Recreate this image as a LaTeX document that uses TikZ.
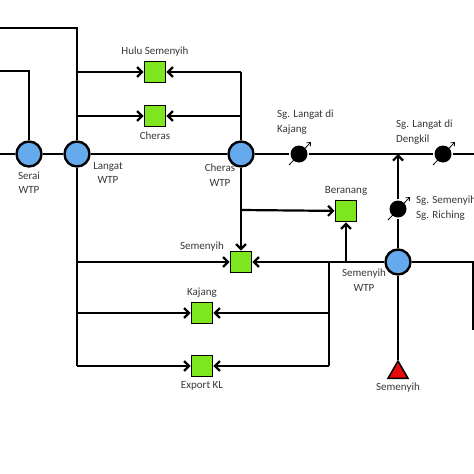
\documentclass[tikz,border=0pt]{standalone}
\usepackage{fontspec}
\setmainfont{Carlito}
\usetikzlibrary{shapes.geometric,arrows.meta,positioning}

\definecolor{wtpblue}{RGB}{102,170,238}
\definecolor{demandgreen}{RGB}{125,230,30}
\definecolor{sourcered}{RGB}{230,10,10}
\definecolor{labelgray}{RGB}{55,55,55}

\begin{document}
\begin{tikzpicture}[
    x=1pt, y=-1pt,
    line width=2.2pt,
    >={Straight Barb[length=5pt,width=10pt]},
    wtp/.style={circle, draw, line width=2.4pt, fill=wtpblue, minimum size=25pt, inner sep=0pt},
    demand/.style={rectangle, draw, line width=1.8pt, fill=demandgreen, minimum size=21pt, inner sep=0pt},
    gauge/.style={circle, fill=black, minimum size=17pt, inner sep=0pt},
    source/.style={regular polygon, regular polygon sides=3, draw, line width=1.5pt, fill=sourcered, minimum size=23pt, inner sep=0pt},
    lbl/.style={text=labelgray, font=\fontsize{11}{14.5}\selectfont, align=center, inner sep=1pt}
]
\useasboundingbox (0,0) rectangle (474,474);

% Treatment plants
\node[wtp] (serai) at (29,154) {};
\node[wtp] (langat) at (77,154) {};
\node[wtp] (cheras) at (241,154) {};
\node[wtp] (semwtp) at (398,262) {};

% Demand zones
\node[demand] (hulu) at (155,72) {};
\node[demand] (cherasd) at (155,116) {};
\node[demand] (semd) at (241,262) {};
\node[demand] (beranang) at (346,211) {};
\node[demand] (kajang) at (202,313) {};
\node[demand] (export) at (202,366) {};

% Gauging stations and source
\node[gauge] (gkajang) at (299,154) {};
\node[gauge] (gdengkil) at (443,154) {};
\node[gauge] (griching) at (398,209) {};
\node[source] (semriver) at (398,372.5) {};

% Junctions
\coordinate (w1) at (0,28);
\coordinate (w2) at (0,71);
\coordinate (w3) at (0,154);
\coordinate (e3) at (474,154);
\coordinate (tl) at (77,28);
\coordinate (j72) at (77,72);
\coordinate (j116) at (77,116);
\coordinate (j262) at (77,262);
\coordinate (j313) at (77,313);
\coordinate (lb) at (77,366);
\coordinate (ct) at (241,72);
\coordinate (c116) at (241,116);
\coordinate (c210) at (241,210);
\coordinate (b262) at (346,262);
\coordinate (k262) at (329,262);
\coordinate (k313) at (329,313);
\coordinate (k366) at (329,366);
\coordinate (m) at (398,154);
\coordinate (r1) at (473,262);
\coordinate (r2) at (473,330);

% Pipes
\draw (w3) -- (serai) -- (langat) -- (cheras) -- (gkajang) -- (gdengkil) -- (e3);
\draw (w1) -- (tl) -- (langat);
\draw (w2) -| (serai);
\draw (langat) -- (lb);
\draw[->] (j72) -- (hulu);
\draw[->] (ct) -- (hulu);
\draw (ct) -- (cheras);
\draw[->] (j116) -- (cherasd);
\draw[->] (c116) -- (cherasd);
\draw[->] (cheras) -- (semd);
\draw[->] (c210) -- (beranang);
\draw[->] (j262) -- (semd);
\draw[->] (semwtp) -- (semd);
\draw[->] (b262) -- (beranang);
\draw (k262) -- (k366);
\draw[->] (j313) -- (kajang);
\draw[->] (k313) -- (kajang);
\draw[->] (lb) -- (export);
\draw[->] (k366) -- (export);
\draw (semwtp) -- (griching);
\draw[->] (griching) -- (m);
\draw (semwtp) -- (semriver);
\draw (semwtp) -- (r1) -- (r2);

% Gauge arrows
\foreach \g in {gkajang, gdengkil, griching}
  \draw[line width=0.8pt, -{Straight Barb[length=3pt,width=5pt]}] ([shift={(-10,11)}]\g.center) -- ([shift={(12,-12)}]\g.center);

% Labels
\node[lbl, below=2pt of serai] (serailbl) {Serai\\WTP};
\node[lbl] (langatlbl) at (108,173) {Langat\\WTP};
\node[lbl] (cheraslbl) at (220,175) {Cheras\\WTP};
\node[lbl] (semwtplbl) at (364,280) {Semenyih\\WTP};
\node[lbl, above=2pt of hulu] (hululbl) {Hulu Semenyih};
\node[lbl, below=2pt of cherasd] (cherasdlbl) {Cheras};
\node[lbl, above=2pt of beranang] (beranglbl) {Beranang};
\node[lbl] (semdlbl) at (202,247) {Semenyih};
\node[lbl, above=2pt of kajang] (kajanglbl) {Kajang};
\node[lbl, below=2pt of export] (exportlbl) {Export KL};
\node[lbl, below=2pt of semriver] (semriverlbl) {Semenyih};
\node[lbl, align=left, anchor=west] (gkajanglbl) at (275,122) {Sg. Langat di\\Kajang};
\node[lbl, align=left, anchor=west] (gdengkillbl) at (394,132) {Sg. Langat di\\Dengkil};
\node[lbl, align=left, anchor=west] (grichinglbl) at (414,208) {Sg. Semenyih\\Sg. Riching};

\end{tikzpicture}
\end{document}
